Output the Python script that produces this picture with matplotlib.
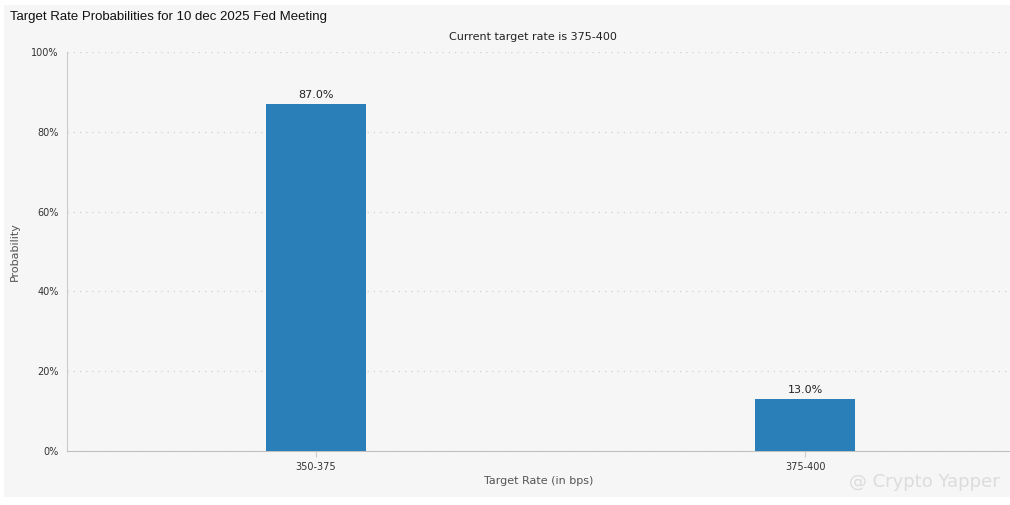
import matplotlib.pyplot as plt
from matplotlib.ticker import PercentFormatter

categories = ["350-375", "375-400"]
probs = [87.0, 13.0]
yticks = [0, 20, 40, 60, 80, 100]

bg = "#f6f6f6"
bar_color = "#2a7fb8"

fig = plt.figure(figsize=(10.1, 5.05), dpi=100)
fig.patch.set_facecolor("white")
# light panel behind everything
panel = plt.Rectangle((0.004, 0.016), 0.996, 0.974, transform=fig.transFigure,
                      facecolor=bg, edgecolor="none", zorder=-10)
fig.add_artist(panel)

ax = fig.add_axes([67 / 1010, 1 - 451 / 505, (1010 - 67) / 1010, (451 - 52) / 505])
ax.set_facecolor(bg)

x = list(range(len(categories)))
bars = ax.bar(x, probs, width=0.205, color=bar_color, zorder=3)
for xi, v in zip(x, probs):
    ax.text(xi, v + 1.0, f"{v:.1f}%", ha="center", va="bottom", fontsize=8, color="#222222")

ax.set_xlim(-0.509, 1.419)
ax.set_ylim(0, 100)
ax.set_xticks(x)
ax.set_xticklabels(categories, fontsize=7, color="#333333")
ax.set_yticks(yticks)
ax.yaxis.set_major_formatter(PercentFormatter(decimals=0))
ax.tick_params(axis="y", labelsize=7, colors="#333333", length=0, pad=6)
ax.tick_params(axis="x", length=4, color="#cccccc", pad=4)
ax.grid(axis="y", linestyle=(0, (1, 4)), color="#cfcfcf", linewidth=0.9, zorder=0)

for s in ["top", "right"]:
    ax.spines[s].set_visible(False)
ax.spines["left"].set_color("#cccccc")
ax.spines["bottom"].set_color("#c0c0c0")

ax.set_ylabel("Probability", fontsize=8, color="#555555", labelpad=2)
ax.yaxis.set_label_coords(-47 / 943, 0.5)
ax.set_xlabel("Target Rate (in bps)", fontsize=8, color="#555555", labelpad=3)

fig.text(10 / 1010, 1 - 17 / 505, "Target Rate Probabilities for 10 dec 2025 Fed Meeting",
         fontsize=9.5, family="Liberation Sans", color="#111111", va="center", ha="left")
fig.text(533 / 1010, 1 - 37 / 505, "Current target rate is 375-400",
         fontsize=8, color="#222222", va="center", ha="center")

# faint watermark
fig.text(1000 / 1010, 1 - 482 / 505, "@ Crypto Yapper", fontsize=13, color="#dcdcdc",
         va="center", ha="right", zorder=10)

fig.savefig("out.png", dpi=100, facecolor=fig.get_facecolor())
